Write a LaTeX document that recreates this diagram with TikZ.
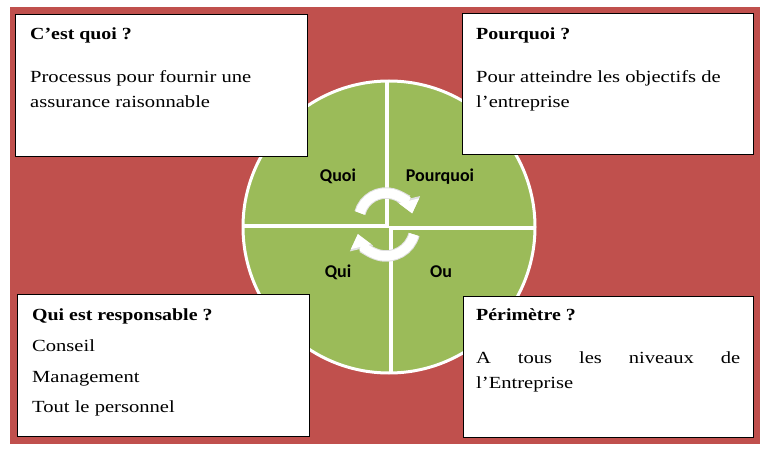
\documentclass[tikz,border=0pt]{standalone}
\usepackage{fontspec}
\setmainfont{Liberation Serif}[FakeStretch=1.17]
\newfontfamily\bodyfont{Liberation Serif}[FakeStretch=1.21]
\newfontfamily\slicefont{Carlito}
\usetikzlibrary{arrows.meta}
\definecolor{bgred}{HTML}{C0504D}
\definecolor{piegreen}{HTML}{9BBB59}

\begin{document}
\begin{tikzpicture} [x=1pt,y=-1pt,>={Triangle[width=20pt,length=13pt]}]
    \tikzset {
      panel/.style={rectangle,draw=black,fill=white,line width=0.8pt,anchor=north west,inner sep=0pt},
      title/.style={anchor=base west,inner sep=0pt,font=\fontsize{17}{20}\selectfont\bfseries},
      body/.style={anchor=base west,inner sep=0pt,font=\bodyfont\fontsize{17}{20}\selectfont},
      slice/.style={anchor=base,inner sep=0pt,font=\slicefont\bfseries\fontsize{18}{20}\selectfont},
      turn/.style={->,white,line width=9.5pt},
      turnedge/.style={->,black!12,line width=11.5pt,>={Triangle[width=23pt,length=15pt]}}
    }
    \useasboundingbox (0,0) rectangle (769,457);
    \fill [bgred] (10,7) rectangle (760,444);

    % the wheel
    \coordinate (o) at (389,227);
    \fill [piegreen,draw=white,line width=3pt] (o) circle [radius=146];
    \draw [white,line width=4pt] (387,81) -- (387,227);
    \draw [white,line width=4pt] (391,227) -- (391,373);
    \draw [white,line width=4pt] (243,226) -- (389,226);
    \draw [white,line width=4pt] (389,228) -- (535,228);
    \node [slice] (quoi) at (338,182) {Quoi};
    \node [slice] (pourquoi) at (440,182) {Pourquoi};
    \node [slice] (qui) at (338,278) {Qui};
    \node [slice] (ou) at (441,278) {Ou};
    \draw [turnedge] (386,220) ++(195:27) arc [start angle=195,end angle=346,radius=27];
    \draw [turn] (386,220) ++(195:27) arc [start angle=195,end angle=346,radius=27];
    \draw [turnedge] (386,227) ++(15:29) arc [start angle=15,end angle=166,radius=29];
    \draw [turn] (386,227) ++(15:29) arc [start angle=15,end angle=166,radius=29];

    % the four questions
    \node [panel,minimum width=292,minimum height=142] (cq) at (15,14) {};
    \node [title] (cq-t) at ([shift={(15,26)}]cq.north west) {C’est quoi ?};
    \node [body] (cq-a) at ([shift={(15,69)}]cq.north west) {Processus pour fournir une};
    \node [body] (cq-b) at ([shift={(15,94)}]cq.north west) {assurance raisonnable};

    \node [panel,minimum width=291,minimum height=141] (pq) at (462,13) {};
    \node [title] (pq-t) at ([shift={(14,27)}]pq.north west) {Pourquoi ?};
    \node [body] (pq-a) at ([shift={(14,70)}]pq.north west) {Pour atteindre les objectifs de};
    \node [body] (pq-b) at ([shift={(14,95)}]pq.north west) {l’entreprise};

    \node [panel,minimum width=292,minimum height=142] (qr) at (17,294) {};
    \node [title] (qr-t) at ([shift={(15,26)}]qr.north west) {Qui est responsable ?};
    \node [body] (qr-a) at ([shift={(15,58)}]qr.north west) {Conseil};
    \node [body] (qr-b) at ([shift={(15,88)}]qr.north west) {Management};
    \node [body] (qr-c) at ([shift={(15,118)}]qr.north west) {Tout le personnel};

    \node [panel,minimum width=290,minimum height=141] (pm) at (463,296) {};
    \node [title] (pm-t) at ([shift={(13,24)}]pm.north west) {Périmètre ?};
    \node [body] (pm-a) at ([shift={(13,67)}]pm.north west) {\makebox[264pt][s]{A tous les niveaux de}};
    \node [body] (pm-b) at ([shift={(13,92)}]pm.north west) {l’Entreprise};
  \end{tikzpicture}
\end{document}
